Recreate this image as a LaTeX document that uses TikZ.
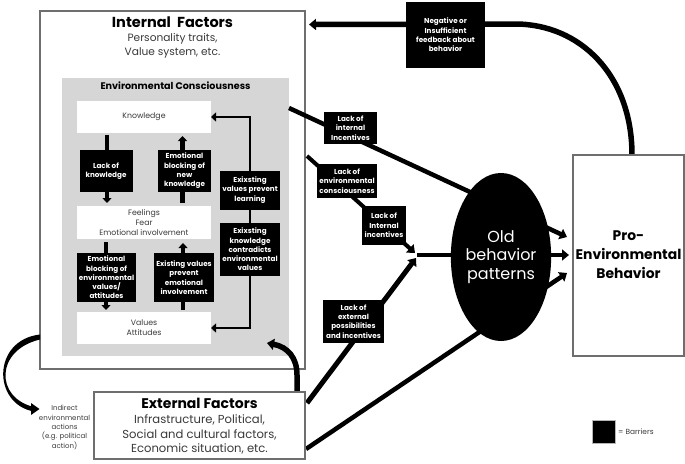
\documentclass[tikz,border=0pt]{standalone}
\usepackage{fontspec}
\setmainfont{Poppins}
\usetikzlibrary{arrows.meta,shapes.geometric}
\pgfdeclarelayer{panel}
\pgfdeclarelayer{wires}
\pgfsetlayers{panel,wires,main}
\definecolor{ink}{HTML}{3A3A3A}
\definecolor{edge}{HTML}{6E6E6E}
\definecolor{panelgrey}{HTML}{D6D6D6}
\newcommand{\fs}[2]{\fontsize{#1}{#2}\selectfont}
\tikzset{
  x=1pt,y=-1pt,
  box/.style args={#1x#2}{minimum width=#1pt,minimum height=#2pt,inner sep=0pt,outer sep=0pt,align=center},
  barrier/.style={box=#1,fill=black,text=white,font=\fs{7.2}{9.3}\bfseries},
  stage/.style={box=134x32,fill=white,text=ink,font=\fs{7.8}{10}},
  frame/.style={box=#1,draw=edge,line width=1.3pt,fill=white},
  wire/.style={line width=4.5pt,black},
  thin wire/.style={line width=2.4pt,black},
  tip/.style={-{Triangle[length=7pt,width=11pt]}},
  small tip/.style={-{Triangle[length=5pt,width=9pt]}},
}
\begin{document}
\begin{tikzpicture}
\useasboundingbox (0,0) rectangle (685,463);

\begin{pgfonlayer}{panel}
\node[frame=265x358] (internal) at (172.5,190) {};
\node[box=227x278,fill=panelgrey] (grey) at (175.5,217) {};
\end{pgfonlayer}

\node[font=\fs{14.5}{16}\bfseries,text=black] (inttitle) at (172.5,22) {Internal\ \ Factors};
\node[font=\fs{10.6}{14.5},text=ink,align=center] (inttext) at (172.5,46) {Personality traits,\\Value system, etc.};
\node[font=\fs{9.6}{11}\bfseries,text=black] (envtitle) at (175.5,86) {Environmental Consciousness};

\node[stage] (know) at (144,117) {Knowledge};
\node[stage,box=134x33,font=\fs{7.8}{10.2}] (feel) at (144,222.5) {Feelings\\Fear\\Emotional involvement};
\node[stage] (vals) at (144,328) {Values\\Attitudes};

\node[barrier=53x42] (b1) at (106,171) {Lack of\\knowledge};
\node[barrier=53x42] (b2) at (184.5,171) {Emotional\\blocking of\\new\\knowledge};
\node[barrier=60x39] (b3) at (250,190) {Exixsting\\values prevent\\learning};
\node[barrier=60x53] (b4) at (250,249.5) {Exixsting\\knowledge\\contradicts\\environmental\\values};
\node[barrier=59x49] (b5) at (106.5,277.5) {Emotional\\blocking of\\environmental\\values/\\attitudes};
\node[barrier=60x49] (b6) at (184,277.5) {Existing values\\prevent\\emotional\\involvement};

\node[frame=211x67] (external) at (199.5,425.5) {};
\node[font=\fs{14}{16}\bfseries,text=black] (exttitle) at (199.5,403) {External Factors};
\node[font=\fs{11.6}{14.6},text=ink,align=center] (exttext) at (199.5,434.5) {Infrastructure, Political,\\Social and cultural factors,\\Economic situation, etc.};
\node[font=\fs{7}{9.3},text=ink,align=center] (indirect) at (64.5,427.5) {Indirect\\environmental\\actions\\(e.g. political\\action)};

\node[barrier=79x66] (b7) at (445.5,35) {Negative or\\Insufficient\\feedback about\\behavior};
\node[barrier=53x32] (b8) at (350.5,128) {Lack of\\internal\\Incentives};
\node[barrier=60x34] (b9) at (347,181) {Lack of\\environmental\\consciousness};
\node[barrier=44x39] (b10) at (384,225.5) {Lack of\\Internal\\incentives};
\node[barrier=61x43] (b11) at (353.5,321.5) {Lack of\\external\\possibilities\\and incentives};

\node[ellipse,fill=black,text=white,minimum width=95pt,minimum height=168pt,inner sep=0pt,align=center,font=\fs{16}{18.5}] (old) at (501,257) {Old\\behavior\\patterns};
\node[frame=111x201] (pro) at (628.5,255.5) {};
\node[font=\fs{13.9}{19}\bfseries,text=black,align=center] (protext) at (628.5,255) {Pro-\\Environmental\\Behavior};

\node[box=23x23,fill=black,draw=edge!50,line width=.5pt] (legend) at (603.5,431.5) {};
\node[anchor=west,font=\fs{7.4}{8},text=ink,inner sep=0pt] (legendtext) at (618,431.5) {= Barriers};

\coordinate (s1) at (289,108);
\coordinate (t1) at (567,237);
\coordinate (s2) at (307,156);
\coordinate (t2) at (415,253);
\coordinate (s3) at (307,403);
\coordinate (t3) at (416,258);
\coordinate (s4) at (417,255);
\coordinate (t4) at (569,255);
\coordinate (s5) at (306,449);
\coordinate (t5) at (567,273);
\coordinate (s6) at (632,155);
\coordinate (c6) at (515,24);
\coordinate (t6) at (309,24.5);
\coordinate (s7) at (297,392);
\coordinate (t7) at (267,343);

\begin{pgfonlayer}{wires}
\draw[wire,tip] (s1) -- (t1);
\draw[wire,line width=4pt,tip] (s2) -- (t2);
\draw[wire,line width=5pt,tip] (s3) -- (t3);
\draw[wire,tip] (s4) -- (t4);
\draw[wire,tip] (s5) -- (t5);
\draw[wire,line width=5.5pt,tip] (s6) .. controls (632,75) and (580,24) .. (c6) -- (t6);
\draw[wire,line width=5.5pt,tip] (s7) -- ++(0,-17) .. controls (297,358) and (288,347) .. (t7);
\fill[black] (40,334.5) .. controls (-8,340) and (-8,404) .. (34,411.5)
  -- (34,407) .. controls (-5,398) and (-5,350) .. (40,339.5) -- cycle;
\fill[black] (39.5,409) -- (31,403) -- (31,415) -- cycle;
\draw[wire,small tip] (107,135) -- (107,203);
\draw[wire,small tip] (182.5,203) -- (182.5,136);
\draw[wire,small tip] (106,242) -- (106,310);
\draw[wire,small tip] (183,310) -- (183,243);
\draw[thin wire,small tip] (b3.north) |- (know.east);
\draw[thin wire] (b3.south) -- (b4.north);
\draw[thin wire,small tip] (b4.south) |- (vals.east);
\end{pgfonlayer}
\end{tikzpicture}
\end{document}
